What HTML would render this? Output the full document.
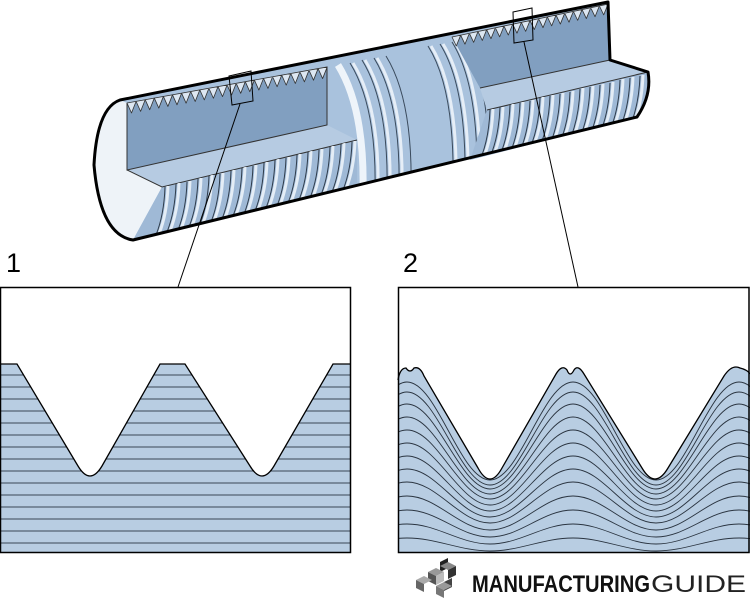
<!DOCTYPE html>
<html><head><meta charset="utf-8"><style>
html,body{margin:0;padding:0;background:#fff;}
svg{display:block;}
</style></head><body>
<svg width="750" height="606" viewBox="0 0 750 606" xmlns="http://www.w3.org/2000/svg">
<defs>
<clipPath id="c1"><path d="M0,364 L17,364 L78,466 Q90,486 102,466 L160,364 L185,364 L250,466 Q262,486 274,466 L333,364 L351,364 L351,553 L0,553 Z"/></clipPath>
<clipPath id="c2"><path d="M398,380 Q400,368 406,368 Q410,374 414,368 Q420,366 424,376 L478,468 Q490,490 502,468 L556,374 Q562,364 567,370 Q570,378 574,370 Q578,364 584,374 L642,468 Q655,490 668,468 L724,376 Q732,364 740,368 Q748,370 750,374 L750,553 L398,553 Z"/></clipPath>
<clipPath id="sil"><path d="M120,100 L608,2 L610,60 L648,72 Q652,95 637,117 L133,240 Q100,235 94,165 Q97,108 120,100 Z"/></clipPath>
<clipPath id="ribL"><path d="M162,187 L357,140 L357,186 L133,240 Z"/></clipPath>
<clipPath id="ribR"><path d="M487,110 L648,72 Q652,95 637,117 L470,160 Z"/></clipPath>
</defs>

<!-- cylinder -->
<path d="M120,100 L608,2 L610,60 L648,72 Q652,95 637,117 L133,240 Q100,235 94,165 Q97,108 120,100 Z" fill="#a9c2dd"/>
<g clip-path="url(#sil)">
<!-- center grooves -->
<g fill="none">
<path d="M338,65 Q372,120 360,240" stroke="#eef4fa" stroke-width="7"/>
<path d="M350,63 Q384,118 372,240" stroke="#3a4a5c" stroke-width="1"/>
<path d="M353,63 Q387,118 375,240" stroke="#e6eef7" stroke-width="3"/>
<path d="M362,60 Q396,115 384,240" stroke="#3a4a5c" stroke-width="1"/>
<path d="M365,60 Q399,115 387,240" stroke="#e6eef7" stroke-width="3"/>
<path d="M374,58 Q408,113 396,240" stroke="#3a4a5c" stroke-width="1"/>
<path d="M377,58 Q411,113 399,240" stroke="#e6eef7" stroke-width="3"/>
<path d="M386,56 Q420,111 408,240" stroke="#3a4a5c" stroke-width="1"/>
<path d="M428,46 Q462,100 450,240" stroke="#3a4a5c" stroke-width="1"/>
<path d="M431,46 Q465,100 453,240" stroke="#e6eef7" stroke-width="3"/>
<path d="M440,44 Q474,98 462,240" stroke="#3a4a5c" stroke-width="1"/>
<path d="M443,44 Q477,98 465,240" stroke="#e6eef7" stroke-width="3"/>
<path d="M452,42 Q486,96 474,240" stroke="#3a4a5c" stroke-width="1"/>
<path d="M455,42 Q489,96 477,240" stroke="#e6eef7" stroke-width="3"/>
<path d="M464,40 Q498,94 486,240" stroke="#3a4a5c" stroke-width="1"/>
</g>
</g>
<path d="M120,100 Q97,108 94,165 Q100,235 133,240 L162,187 L127,170 L127,103 Z" fill="#eef3f8"/>
<path d="M127,103 L327,67 L327,125 L127,170 Z" fill="#819fc0"/>
<path d="M127,170 L327,125 L357,140 L162,187 Z" fill="#b6cbe2"/>
<path d="M162,187 L357,140 L357,186 L133,240 Z" fill="#9fb9d6"/>
<path d="M452,37 L608,4 L610,60 L480,88 Z" fill="#819fc0"/>
<path d="M480,88 L610,60 L648,72 L487,110 Z" fill="#b6cbe2"/>
<path d="M487,110 L648,72 Q652,95 637,117 L470,160 Z" fill="#9fb9d6"/>
<g fill="none" stroke="#333" stroke-width="1">
<path d="M127,103 L127,170 L327,125 L327,67"/>
<path d="M127,170 L162,187 L357,140"/>
<path d="M480,88 L610,60"/>
<path d="M487,110 L648,72"/>
</g>
<!-- ribs left -->
<g clip-path="url(#ribL)" fill="none">
<g stroke="#e4edf6" stroke-width="3">
<path d="M168,186 q-1,28 -9,48"/><path d="M179,183 q-1,28 -9,48"/><path d="M190,181 q-1,28 -9,48"/><path d="M201,178 q-1,28 -9,48"/><path d="M212,175 q-1,28 -9,48"/><path d="M223,173 q-1,28 -9,48"/><path d="M234,170 q-1,28 -9,48"/><path d="M245,167 q-1,28 -9,48"/><path d="M256,165 q-1,28 -9,48"/><path d="M267,162 q-1,28 -9,48"/><path d="M278,159 q-1,28 -9,48"/><path d="M289,157 q-1,28 -9,48"/><path d="M300,154 q-1,28 -9,48"/><path d="M311,151 q-1,28 -9,48"/><path d="M322,149 q-1,28 -9,48"/><path d="M333,146 q-1,28 -9,48"/><path d="M344,143 q-1,28 -9,48"/><path d="M355,141 q-1,28 -9,48"/>
</g>
<g stroke="#2e3b4a" stroke-width="1">
<path d="M165,187 q-1,28 -9,48"/><path d="M176,184 q-1,28 -9,48"/><path d="M187,182 q-1,28 -9,48"/><path d="M198,179 q-1,28 -9,48"/><path d="M209,176 q-1,28 -9,48"/><path d="M220,174 q-1,28 -9,48"/><path d="M231,171 q-1,28 -9,48"/><path d="M242,168 q-1,28 -9,48"/><path d="M253,166 q-1,28 -9,48"/><path d="M264,163 q-1,28 -9,48"/><path d="M275,160 q-1,28 -9,48"/><path d="M286,158 q-1,28 -9,48"/><path d="M297,155 q-1,28 -9,48"/><path d="M308,152 q-1,28 -9,48"/><path d="M319,150 q-1,28 -9,48"/><path d="M330,147 q-1,28 -9,48"/><path d="M341,144 q-1,28 -9,48"/><path d="M352,142 q-1,28 -9,48"/>
</g>
</g>
<!-- ribs right -->
<g clip-path="url(#ribR)" fill="none">
<g stroke="#e4edf6" stroke-width="3">
<path d="M493,109 q-1,26 -8,45"/><path d="M503,107 q-1,26 -8,45"/><path d="M513,104 q-1,26 -8,45"/><path d="M523,102 q-1,26 -8,45"/><path d="M533,100 q-1,26 -8,45"/><path d="M543,97 q-1,26 -8,45"/><path d="M553,95 q-1,26 -8,45"/><path d="M563,93 q-1,26 -8,45"/><path d="M573,91 q-1,26 -8,45"/><path d="M583,88 q-1,26 -8,45"/><path d="M593,86 q-1,26 -8,45"/><path d="M603,84 q-1,26 -8,45"/><path d="M613,82 q-1,26 -8,45"/><path d="M623,79 q-1,26 -8,45"/><path d="M633,77 q-1,26 -8,45"/><path d="M643,75 q-1,26 -8,45"/>
</g>
<g stroke="#2e3b4a" stroke-width="1">
<path d="M490,110 q-1,26 -8,45"/><path d="M500,107 q-1,26 -8,45"/><path d="M510,105 q-1,26 -8,45"/><path d="M520,103 q-1,26 -8,45"/><path d="M530,101 q-1,26 -8,45"/><path d="M540,98 q-1,26 -8,45"/><path d="M550,96 q-1,26 -8,45"/><path d="M560,94 q-1,26 -8,45"/><path d="M570,92 q-1,26 -8,45"/><path d="M580,89 q-1,26 -8,45"/><path d="M590,87 q-1,26 -8,45"/><path d="M600,85 q-1,26 -8,45"/><path d="M610,83 q-1,26 -8,45"/><path d="M620,80 q-1,26 -8,45"/><path d="M630,78 q-1,26 -8,45"/><path d="M640,76 q-1,26 -8,45"/>
</g>
</g>
<!-- teeth -->
<path d="M127,103 l4.5,10 l4.6,-11.64 l4.5,10 l4.6,-11.64 l4.5,10 l4.6,-11.64 l4.5,10 l4.6,-11.64 l4.5,10 l4.6,-11.64 l4.5,10 l4.6,-11.64 l4.5,10 l4.6,-11.64 l4.5,10 l4.6,-11.64 l4.5,10 l4.6,-11.64 l4.5,10 l4.6,-11.64 l4.5,10 l4.6,-11.64 l4.5,10 l4.6,-11.64 l4.5,10 l4.6,-11.64 l4.5,10 l4.6,-11.64 l4.5,10 l4.6,-11.64 l4.5,10 l4.6,-11.64 l4.5,10 l4.6,-11.64 l4.5,10 l4.6,-11.64 l4.5,10 l4.6,-11.64 l4.5,10 l4.6,-11.64 l4.5,10 l4.6,-11.64 l4.5,10 l4.6,-11.64 Z" fill="#dde7f2" stroke="#333" stroke-width="0.8" stroke-linejoin="round"/>
<path d="M452,37 l4.3,9 l4.37,-10.83 l4.3,9 l4.37,-10.83 l4.3,9 l4.37,-10.83 l4.3,9 l4.37,-10.83 l4.3,9 l4.37,-10.83 l4.3,9 l4.37,-10.83 l4.3,9 l4.37,-10.83 l4.3,9 l4.37,-10.83 l4.3,9 l4.37,-10.83 l4.3,9 l4.37,-10.83 l4.3,9 l4.37,-10.83 l4.3,9 l4.37,-10.83 l4.3,9 l4.37,-10.83 l4.3,9 l4.37,-10.83 l4.3,9 l4.37,-10.83 l4.3,9 l4.37,-10.83 l4.3,9 l4.37,-10.83 l4.3,9 l4.37,-10.83 Z" fill="#dde7f2" stroke="#333" stroke-width="0.8" stroke-linejoin="round"/>
<path d="M120,100 L608,2 L610,60 L648,72 Q652,95 637,117 L133,240 Q100,235 94,165 Q97,108 120,100 Z" fill="none" stroke="#000" stroke-width="3" stroke-linejoin="round"/>

<!-- leaders -->
<g fill="none" stroke="#000" stroke-width="1">
<path d="M229,76 L251,71 L253,101 L232,105 Z"/>
<path d="M513,12 L532,8 L533,40 L514,43 Z"/>
<line x1="240" y1="104" x2="178" y2="287"/>
<line x1="524" y1="42" x2="578" y2="287"/>
</g>
<text x="6" y="272" font-family="Liberation Sans, sans-serif" font-size="27">1</text>
<text x="403" y="272" font-family="Liberation Sans, sans-serif" font-size="27">2</text>

<!-- panel 1 -->
<path d="M0,364 L17,364 L78,466 Q90,486 102,466 L160,364 L185,364 L250,466 Q262,486 274,466 L333,364 L351,364 L351,553 L0,553 Z" fill="#b8cde2"/>
<g clip-path="url(#c1)" stroke="#3a4655" stroke-width="0.9">
<line x1="0" y1="375" x2="351" y2="375"/><line x1="0" y1="387" x2="351" y2="387"/><line x1="0" y1="399" x2="351" y2="399"/><line x1="0" y1="411" x2="351" y2="411"/><line x1="0" y1="423" x2="351" y2="423"/><line x1="0" y1="435" x2="351" y2="435"/><line x1="0" y1="447" x2="351" y2="447"/><line x1="0" y1="459" x2="351" y2="459"/><line x1="0" y1="471" x2="351" y2="471"/><line x1="0" y1="483" x2="351" y2="483"/><line x1="0" y1="495" x2="351" y2="495"/><line x1="0" y1="507" x2="351" y2="507"/><line x1="0" y1="519" x2="351" y2="519"/><line x1="0" y1="531" x2="351" y2="531"/><line x1="0" y1="543" x2="351" y2="543"/>
</g>
<path d="M0,364 L17,364 L78,466 Q90,486 102,466 L160,364 L185,364 L250,466 Q262,486 274,466 L333,364 L351,364" fill="none" stroke="#000" stroke-width="1.3"/>
<rect x="0.5" y="287.5" width="350" height="265" fill="none" stroke="#000" stroke-width="1.5"/>

<!-- panel 2 -->
<path d="M398,380 Q400,368 406,368 Q410,374 414,368 Q420,366 424,376 L478,468 Q490,490 502,468 L556,374 Q562,364 567,370 Q570,378 574,370 Q578,364 584,374 L642,468 Q655,490 668,468 L724,376 Q732,364 740,368 Q748,370 750,374 L750,553 L398,553 Z" fill="#b8cde2"/>
<g clip-path="url(#c2)" fill="none" stroke="#2a3440" stroke-width="0.9">
<path d="M324,480 C354,480 377,382 407,382 C437,382 460,480 490,480 C520,480 543,382 573,382 C603,382 626,480 656,480 C686,480 709,382 739,382 C769,382 792,480 822,480"/>
<path d="M324,485 C354,485 377,392 407,392 C437,392 460,485 490,485 C520,485 543,392 573,392 C603,392 626,485 656,485 C686,485 709,392 739,392 C769,392 792,485 822,485"/>
<path d="M324,489 C354,489 377,404 407,404 C437,404 460,489 490,489 C520,489 543,404 573,404 C603,404 626,489 656,489 C686,489 709,404 739,404 C769,404 792,489 822,489"/>
<path d="M324,494 C354,494 377,417 407,417 C437,417 460,494 490,494 C520,494 543,417 573,417 C603,417 626,494 656,494 C686,494 709,417 739,417 C769,417 792,494 822,494"/>
<path d="M324,499 C354,499 377,430 407,430 C437,430 460,499 490,499 C520,499 543,430 573,430 C603,430 626,499 656,499 C686,499 709,430 739,430 C769,430 792,499 822,499"/>
<path d="M324,505 C354,505 377,443 407,443 C437,443 460,505 490,505 C520,505 543,443 573,443 C603,443 626,505 656,505 C686,505 709,443 739,443 C769,443 792,505 822,505"/>
<path d="M324,511 C354,511 377,456 407,456 C437,456 460,511 490,511 C520,511 543,456 573,456 C603,456 626,511 656,511 C686,511 709,456 739,456 C769,456 792,511 822,511"/>
<path d="M324,517 C354,517 377,469 407,469 C437,469 460,517 490,517 C520,517 543,469 573,469 C603,469 626,517 656,517 C686,517 709,469 739,469 C769,469 792,517 822,517"/>
<path d="M324,523 C354,523 377,482 407,482 C437,482 460,523 490,523 C520,523 543,482 573,482 C603,482 626,523 656,523 C686,523 709,482 739,482 C769,482 792,523 822,523"/>
<path d="M324,530 C354,530 377,496 407,496 C437,496 460,530 490,530 C520,530 543,496 573,496 C603,496 626,530 656,530 C686,530 709,496 739,496 C769,496 792,530 822,530"/>
<path d="M324,537 C354,537 377,510 407,510 C437,510 460,537 490,537 C520,537 543,510 573,510 C603,510 626,537 656,537 C686,537 709,510 739,510 C769,510 792,537 822,537"/>
<path d="M324,544 C354,544 377,524 407,524 C437,524 460,544 490,544 C520,544 543,524 573,524 C603,524 626,544 656,544 C686,544 709,524 739,524 C769,524 792,544 822,544"/>
<path d="M324,551 C354,551 377,538 407,538 C437,538 460,551 490,551 C520,551 543,538 573,538 C603,538 626,551 656,551 C686,551 709,538 739,538 C769,538 792,551 822,551"/>
</g>
<path d="M398,380 Q400,368 406,368 Q410,374 414,368 Q420,366 424,376 L478,468 Q490,490 502,468 L556,374 Q562,364 567,370 Q570,378 574,370 Q578,364 584,374 L642,468 Q655,490 668,468 L724,376 Q732,364 740,368 Q748,370 750,374" fill="none" stroke="#000" stroke-width="1.3"/>
<rect x="398.5" y="287.5" width="350.5" height="265" fill="none" stroke="#000" stroke-width="1.5"/>

<!-- logo -->
<g>
<path d="M440,562 l8,-4 l0,10 l-8,4 Z" fill="#222"/>
<path d="M428,572 l8,-4 l8,4 l-8,4 Z" fill="#999"/><path d="M428,572 l8,4 l0,9 l-8,-4 Z" fill="#555"/><path d="M436,576 l8,-4 l0,9 l-8,4 Z" fill="#bbb"/>
<path d="M440,566 l8,-4 l8,4 l-8,4 Z" fill="#888"/><path d="M448,570 l8,-4 l0,9 l-8,4 Z" fill="#333"/>
<path d="M416,580 l8,-4 l8,4 l-8,4 Z" fill="#aaa"/><path d="M416,580 l8,4 l0,8 l-8,-4 Z" fill="#666"/>
<path d="M444,582 l8,-4 l0,9 l-8,4 Z" fill="#444"/><path d="M436,586 l8,-4 l8,4 l-8,4 Z" fill="#999"/>
<path d="M436,594 l8,4 l0,-8 l-8,-4 Z" fill="#777"/>
</g>
<text x="472" y="592" font-family="Liberation Sans, sans-serif" font-size="24" font-weight="bold" fill="#111" textLength="178" lengthAdjust="spacingAndGlyphs">MANUFACTURING</text>
<text x="651" y="592" font-family="Liberation Sans, sans-serif" font-size="24" fill="#222" textLength="95" lengthAdjust="spacingAndGlyphs">GUIDE</text>
</svg>
</body></html>
